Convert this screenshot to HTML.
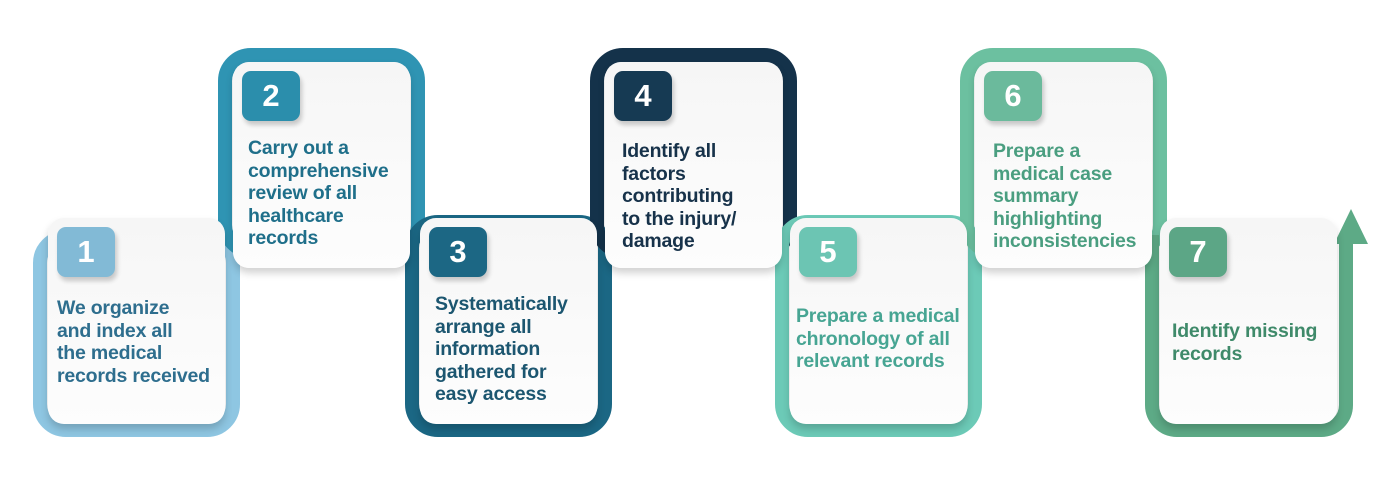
<!DOCTYPE html>
<html><head><meta charset="utf-8"><style>
body{margin:0;width:1400px;height:483px;background:#fff;position:relative;overflow:hidden;font-family:"Liberation Sans",sans-serif}
svg{position:absolute;left:0;top:0}
.c{position:absolute;width:177px;height:206px;background:linear-gradient(180deg,#f6f6f6,#fdfdfd);border-radius:16px;box-shadow:0 5px 8px rgba(0,0,0,.18)}
.b{position:absolute;left:9px;top:9px;width:58px;height:50px;border-radius:9px;color:#fff;font-weight:bold;font-size:31px;line-height:50px;text-align:center;box-shadow:2px 4px 5px rgba(0,0,0,.2)}
.t{position:absolute;left:9px;font-weight:bold;font-size:19.5px;line-height:22.5px;white-space:nowrap;letter-spacing:-0.2px}
</style></head><body>
<svg width="1400" height="483">
<g fill="none" stroke-width="14">
<rect x="40" y="237" width="193" height="193" rx="26" stroke="#8ec6e2"/>
<rect x="225" y="55" width="193" height="196" rx="26" stroke="#2f94b3"/>
<rect x="412" y="222" width="193" height="208" rx="26" stroke="#1b6784"/>
<rect x="597" y="55" width="193" height="196" rx="26" stroke="#14324a"/>
<rect x="782" y="222" width="193" height="208" rx="26" stroke="#6ccab7"/>
<rect x="967" y="55" width="193" height="196" rx="26" stroke="#6cc0a0"/>
<path d="M1152 235 V405 a25 25 0 0 0 25 25 H1321 a25 25 0 0 0 25 -25 V238" stroke="#5daa86"/>
</g>
<polygon points="1334,244 1368,244 1351,209" fill="#5daa86"/>
</svg>
<div class="c" style="left:48px;top:218px"><div class="b" style="background:#82bad6">1</div><div class="t" style="top:79px;left:9px;color:#2e6e8e">We organize<br>and index all<br>the medical<br>records received</div></div>
<div class="c" style="left:233px;top:62px"><div class="b" style="background:#2b8eac">2</div><div class="t" style="top:75px;left:15px;color:#1f6f8a">Carry out a<br>comprehensive<br>review of all<br>healthcare<br>records</div></div>
<div class="c" style="left:420px;top:218px"><div class="b" style="background:#1c6784">3</div><div class="t" style="top:75px;left:15px;color:#1c5670">Systematically<br>arrange all<br>information<br>gathered for<br>easy access</div></div>
<div class="c" style="left:605px;top:62px"><div class="b" style="background:#163a53">4</div><div class="t" style="top:78px;left:17px;color:#17324a">Identify all<br>factors<br>contributing<br>to the injury/<br>damage</div></div>
<div class="c" style="left:790px;top:218px"><div class="b" style="background:#6cc5b3">5</div><div class="t" style="top:87px;left:6px;color:#47a593">Prepare a medical<br>chronology of all<br>relevant records</div></div>
<div class="c" style="left:975px;top:62px"><div class="b" style="background:#6bba9c">6</div><div class="t" style="top:78px;left:18px;color:#4a9e80">Prepare a<br>medical case<br>summary<br>highlighting<br>inconsistencies</div></div>
<div class="c" style="left:1160px;top:218px"><div class="b" style="background:#5ca686">7</div><div class="t" style="top:102px;left:12px;color:#3f8a6a">Identify missing<br>records</div></div>
</body></html>
